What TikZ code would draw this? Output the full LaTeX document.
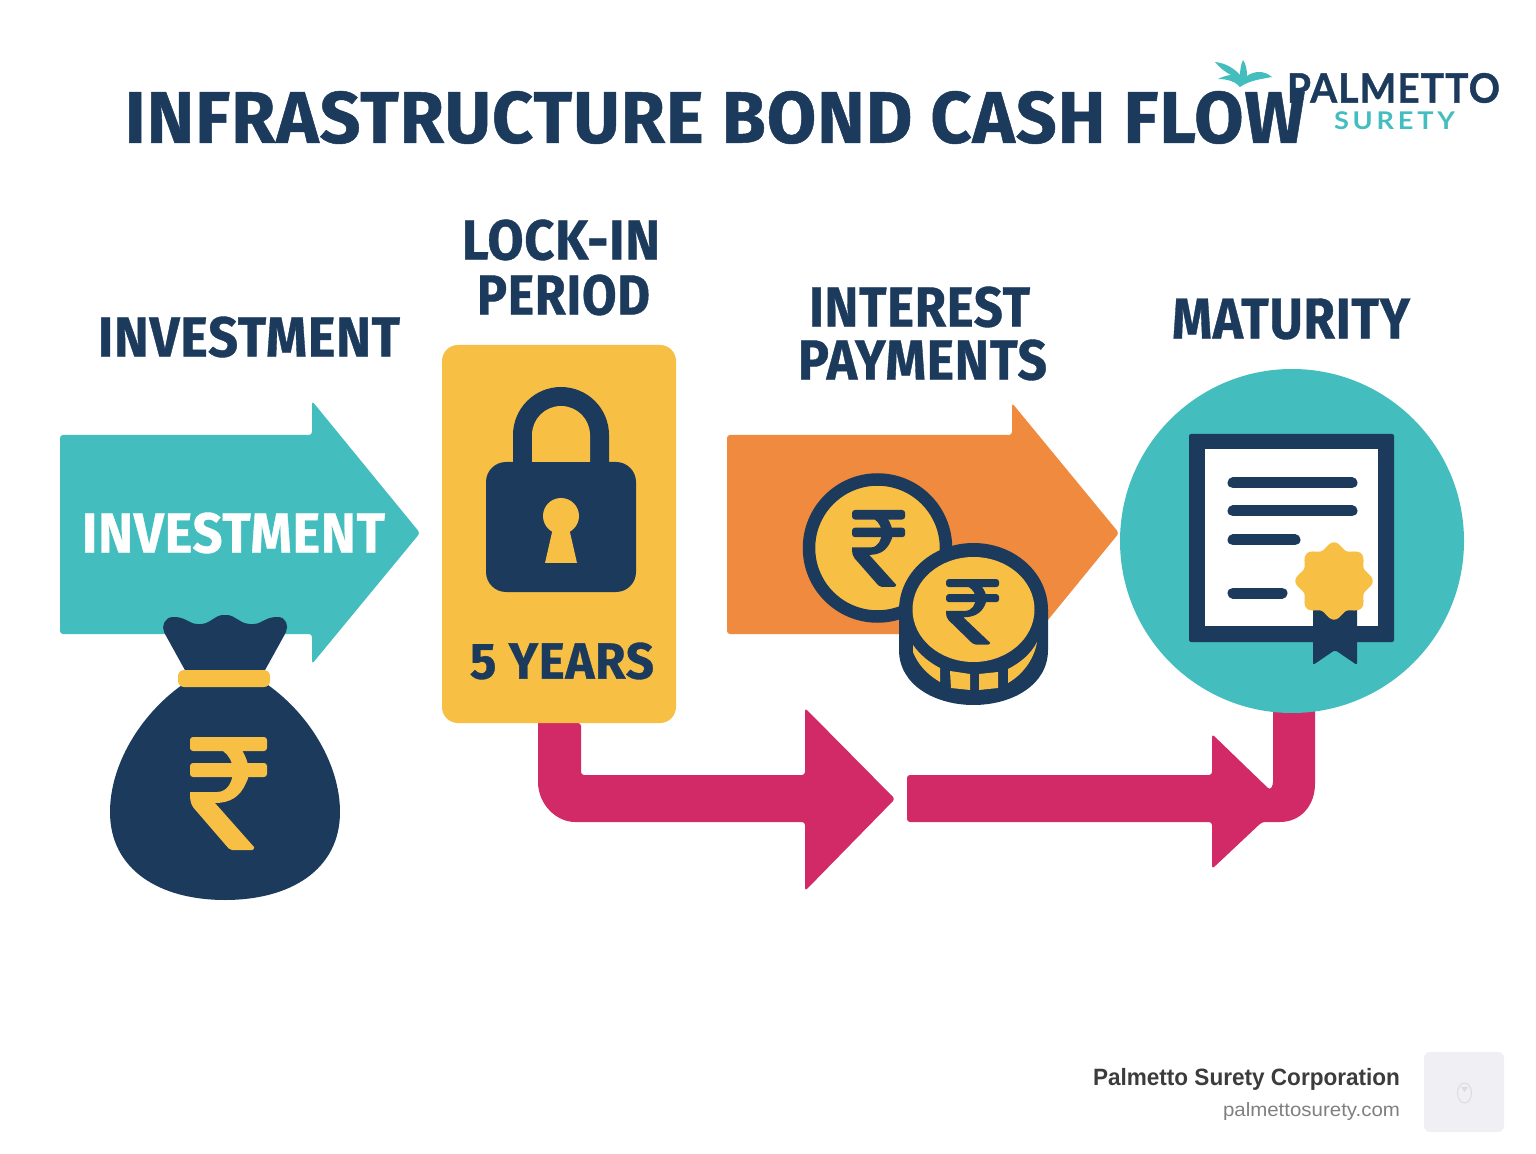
\documentclass[tikz,border=0pt]{standalone}
\usepackage{fontspec}
\usepackage{graphicx}
\setmainfont[BoldFeatures={FakeBold=0.7,LetterSpace=1.5}]{Fira Sans}
\newfontfamily\logofont[LetterSpace=3,BoldFeatures={FakeBold=1}]{Lato}
\newfontfamily\suretyfont[LetterSpace=14]{Lato}
\newfontfamily\footfont{Liberation Sans}
\definecolor{navy}{HTML}{1B3A5C}
\definecolor{tealc}{HTML}{43BDBD}
\definecolor{gold}{HTML}{F8BF45}
\definecolor{orangec}{HTML}{EF8A3E}
\definecolor{magentac}{HTML}{D22A66}
\definecolor{footdark}{HTML}{3C3C3C}
\definecolor{footgray}{HTML}{808080}
\definecolor{iconbg}{HTML}{EFEFF4}
\definecolor{iconfg}{HTML}{DCDCE0}
% exact fit of a text to a width and height, given in picture pixels (0.5pt each)
\newcommand\fitbox[3]{\resizebox*{\dimexpr #1pt/2\relax}{\dimexpr #2pt/2\relax}{#3}}
\tikzset{
  x=0.5pt,y=-0.5pt,
  lab/.style={inner sep=0pt,outer sep=0pt,text=navy,font=\bfseries},
  rupeesign/.pic={
    \path[pic actions,rounded corners=1.5pt]
      (0,0) rectangle (77,14)
      (0,26) rectangle (77,40);
    \path[pic actions]
      (33,10) -- (50,10) .. controls (58,22) and (62,36) .. (56,46)
      .. controls (50,60) and (40,66) .. (25,66)
      -- (64,110) [rounded corners=1pt] -- (64,113) -- (40,113) -- (2,69) -- (0,62) [sharp corners] -- (0,55)
      -- (27,55) .. controls (38,55) and (43,44) .. (43,33)
      .. controls (43,26) and (39,18) .. (33,14) -- cycle;
  },
}
\begin{document}
\begin{tikzpicture}
\useasboundingbox (0,0) rectangle (1536,1154);

% logo
\fill[tealc] (1215,62) .. controls (1225,63) and (1234,68) .. (1240,75)
  .. controls (1240,70) and (1241,64) .. (1243,60)
  .. controls (1246,64) and (1247,70) .. (1247,76)
  .. controls (1254,71) and (1264,70) .. (1272,77)
  .. controls (1262,79) and (1250,80) .. (1240,87)
  .. controls (1236,82) and (1228,79) .. (1218,79)
  .. controls (1222,77) and (1228,75) .. (1231,75)
  .. controls (1225,72) and (1219,67) .. (1215,62) -- cycle;
\node[lab] (palmetto) at (1393.5,88) {\fitbox{213}{30}{\logofont\bfseries PALMETTO}};
\node[lab,text=tealc] (surety) at (1394.5,121) {\fitbox{121}{18}{\suretyfont\bfseries SURETY}};

% title
\node[lab] (title) at (715,117.5) {\fitbox{1180}{53}{INFRASTRUCTURE BOND CASH FLOW}};

% headings
\node[lab] (h1) at (249,337) {\fitbox{302}{41}{INVESTMENT}};
\node[lab] (h2a) at (561,240) {\fitbox{198}{41}{LOCK-IN}};
\node[lab] (h2b) at (563.5,295) {\fitbox{173}{41}{PERIOD}};
\node[lab] (h3a) at (919.5,307) {\fitbox{221}{41}{INTEREST}};
\node[lab] (h3b) at (922.5,360) {\fitbox{249}{41}{PAYMENTS}};
\node[lab] (h4) at (1291,319) {\fitbox{238}{41}{MATURITY}};

% magenta arrows
\fill[magentac,rounded corners=1.5pt] (538,723) -- (581,723) -- (581,775) -- (805,775) -- (805,708)
  -- (895,799) -- (805,891) -- (805,822) -- (578,822)
  [sharp corners] .. controls (556,822) and (538,804) .. (538,782) -- cycle;
\fill[magentac,rounded corners=1.5pt] (907,775) -- (1212,775) -- (1212,734) -- (1270,790) -- (1273,785)
  [sharp corners] -- (1273,705) -- (1315,705) -- (1315,784)
  .. controls (1315,805) and (1301,822) .. (1280,822) [rounded corners=1.5pt] -- (1262,822) -- (1212,869) -- (1212,822) -- (907,822) -- cycle;

% teal arrow
\fill[tealc,rounded corners=1.5pt] (60,435) -- (312,435) -- (312,401) -- (420,533) -- (312,664) -- (312,634) -- (60,634) -- cycle;
\node[lab,text=white] (inv) at (233.5,533) {\fitbox{303}{41}{INVESTMENT}};

% money bag
\fill[navy,rounded corners=1pt] (186,672) -- (165,634) .. controls (161,626) and (165,617) .. (175,617)
  .. controls (186,618) and (192,625) .. (201,624)
  .. controls (210,623) and (216,615) .. (225,615)
  .. controls (234,615) and (240,623) .. (250,624)
  .. controls (259,625) and (265,618) .. (276,617)
  .. controls (286,617) and (289,626) .. (285,634) -- (264,672) -- cycle;
\fill[navy] (268,685) .. controls (310,715) and (340,765) .. (340,812)
  .. controls (340,870) and (290,900) .. (225,900)
  .. controls (160,900) and (110,870) .. (110,812)
  .. controls (110,765) and (140,715) .. (182,685) -- cycle;
\fill[gold,rounded corners=3pt] (178,670) rectangle (270,687);
\pic[fill=gold] at (190,737) {rupeesign};

% lock card
\fill[gold,rounded corners=8pt] (442,345) rectangle (676,723);
\fill[navy,rounded corners=10pt] (486,462) rectangle (636,592);
\fill[navy] (513,470) -- (513,435) arc[start angle=180,end angle=360,radius=48] -- (609,470) -- cycle;
\fill[gold] (532,462) -- (532,435) arc[start angle=180,end angle=360,radius=29] -- (590,462) -- cycle;
\fill[gold] (561,516) circle[radius=18];
\fill[gold] (553,528) -- (569,528) -- (577,563) -- (545,563) -- cycle;
\node[lab] (years) at (562,661) {\fitbox{184}{37}{5 YEARS}};

% orange arrow
\fill[orangec,rounded corners=1.5pt] (727,435) -- (1012,435) -- (1012,403) -- (1119,533) -- (1012,664) -- (1012,634) -- (727,634) -- cycle;

% coins
\fill[gold,draw=navy,line width=6.25pt] (877.5,548) circle[radius=68.5];
\pic[fill=navy,xscale=0.69,yscale=0.68] at (852,510) {rupeesign};
\fill[navy] (899,610) -- (899,650) .. controls (899,685) and (935,705) .. (973.5,705)
  .. controls (1012,705) and (1048,685) .. (1048,650) -- (1048,610) -- cycle;
\fill[navy] (973.5,610) ellipse[x radius=74.5,y radius=67];
\fill[gold] (973.5,609.5) ellipse[x radius=61,y radius=52.5];
\pic[fill=navy,xscale=0.69,yscale=0.58] at (946,579) {rupeesign};
\fill[gold] (913,645) .. controls (920,655) and (930,663) .. (940,668) -- (940,682) .. controls (928,675) and (918,665) .. (913,652) -- cycle;
\fill[gold] (950,671) -- (970,674) -- (970,690) -- (951,688) -- cycle;
\fill[gold] (979,674) -- (998,672) -- (998,688) -- (979,690) -- cycle;
\fill[gold] (1008,669) .. controls (1020,663) and (1031,654) .. (1037,642) .. controls (1034,660) and (1022,675) .. (1008,683) -- cycle;

% maturity
\fill[tealc] (1292,541) circle[radius=172];
\fill[navy,rounded corners=1pt] (1189,434) rectangle (1394,642);
\fill[white] (1205,449) rectangle (1378,626);
\draw[navy,line width=5.5pt,line cap=round]
  (1233,483) -- (1352,483)
  (1233,511) -- (1352,511)
  (1233,540) -- (1295,540)
  (1233,593) -- (1282,593);
\fill[navy,rounded corners=1pt] (1313,605) -- (1357,605) -- (1357,665) -- (1335,650) -- (1313,665) -- cycle;
\fill[gold] plot[smooth cycle,samples=97,domain=0:356.25,variable=\t]
  ({1334+(35.5+3.2*cos(8*\t))*cos(\t)},{581+(35.5+3.2*cos(8*\t))*sin(\t)});

% footer
\node[lab,text=footdark,anchor=east] (corp) at (1400,1079) {\fitbox{307}{22}{\footfont\bfseries Palmetto Surety Corporation}};
\node[lab,text=footgray,anchor=east,font=\normalfont] (web) at (1400,1111.5) {\fitbox{177}{18}{\footfont palmettosurety.com}};
\fill[iconbg,rounded corners=3pt] (1424,1052) rectangle (1504,1132);
\draw[iconfg,line width=0.5pt] (1464.5,1093) ellipse[x radius=7,y radius=10];
\fill[iconfg] (1461,1087) -- (1468,1087) -- (1464.5,1092) -- cycle;
\end{tikzpicture}
\end{document}
